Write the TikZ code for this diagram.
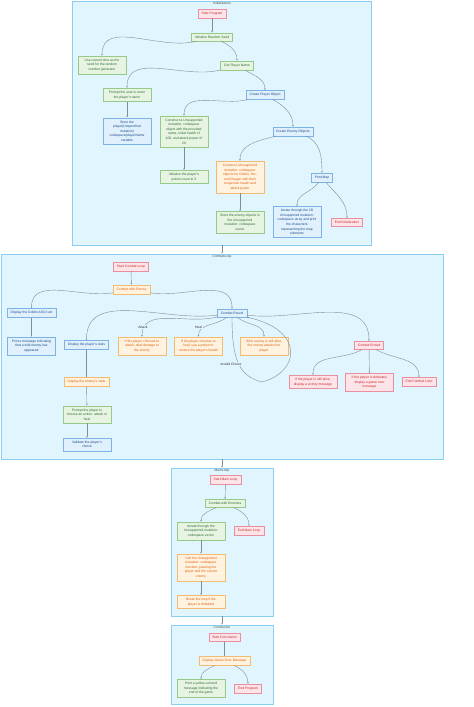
\documentclass[tikz,border=0pt]{standalone}
\usepackage{fontspec}
\setmainfont{Liberation Sans}
\usetikzlibrary{arrows.meta}

\definecolor{clusterfill}{HTML}{E1F5FE}
\definecolor{clusterline}{HTML}{8CCDF2}
\definecolor{redfill}{HTML}{FDE4E9}
\definecolor{redline}{HTML}{E8909F}
\definecolor{redtext}{HTML}{C62828}
\definecolor{greenfill}{HTML}{E6F4E1}
\definecolor{greenline}{HTML}{96C98A}
\definecolor{greentext}{HTML}{2E6B30}
\definecolor{bluefill}{HTML}{E1F0FD}
\definecolor{blueline}{HTML}{7DB2E6}
\definecolor{bluetext}{HTML}{1A4C8A}
\definecolor{orangefill}{HTML}{FFF2DE}
\definecolor{orangeline}{HTML}{F4BA72}
\definecolor{orangetext}{HTML}{E0610E}
\definecolor{edgegray}{HTML}{7E8D97}

\begin{document}
\begin{tikzpicture}[
  x=1mm, y=-1mm,
  font=\fontsize{9.5}{13}\selectfont,
  >={Latex[length=1.8mm,width=1.5mm]},
  box/.style={draw, line width=0.4mm, align=center, inner xsep=3.5mm, inner ysep=2.8mm},
  wide/.style={minimum width=48mm, inner xsep=2mm},
  redbox/.style={box, draw=redline, fill=redfill, text=redtext},
  greenbox/.style={box, draw=greenline, fill=greenfill, text=greentext},
  bluebox/.style={box, draw=blueline, fill=bluefill, text=bluetext},
  orangebox/.style={box, draw=orangeline, fill=orangefill, text=orangetext},
  cluster/.style={draw=clusterline, fill=clusterfill, line width=0.4mm, inner sep=0pt},
  clabel/.style={anchor=north, text=black!70, inner sep=0.8mm},
  arr/.style={->, draw=edgegray, line width=0.4mm},
  lbl/.style={fill=clusterfill, text=black!80, inner sep=0.6mm}
]
\fill[white] (0,0) rectangle (474,707);
\useasboundingbox (0,0) rectangle (474,707);

%% ============ Initialization ============
\node[cluster, minimum width=299mm, minimum height=244mm] (init) at (222,123) {};
\node[clabel] (initlbl) at (init.north) {Initialization};

\node[redbox]         (start)      at (212,13.5)  {Start Program};
\node[greenbox]       (seed)       at (212,37)    {Initialize Random Seed};
\node[greenbox, wide] (usetime)    at (102,65)    {Use current time as the\\seed for the random\\number generator};
\node[greenbox]       (getname)    at (237,65.5)  {Get Player Name};
\node[greenbox, wide] (prompt)     at (127,95)    {Prompt the user to enter\\the player's name};
\node[bluebox]        (mkplayer)   at (265,95)    {Create Player Object};
\node[bluebox, wide]  (storename)  at (127,131)   {Store the\\player(Unspecified\\mutation)\\codespace/playerName\\variable};
\node[greenbox, wide] (construct)  at (184,131.5) {Construct a Unsupported\\mutation: codespace\\object with the provided\\name, initial health of\\100, and attack power of\\20};
\node[greenbox, wide] (potion)     at (184,177)   {Initialize the player's\\potion count to 3};
\node[bluebox]        (mkenemy)    at (293,131.5) {Create Enemy Objects};
\node[orangebox, wide](enemyobj)   at (240,177)   {Construct Unsupported\\mutation: codespace\\objects for Goblin, Orc,\\and Dragon with their\\respective health and\\attack power};
\node[bluebox]        (printmap)   at (322,177.5) {Print Map};
\node[greenbox, wide] (storeenemy) at (240,222.5) {Store the enemy objects in\\the Unsupported\\mutation: codespace\\vector};
\node[bluebox, wide]  (iterate)    at (297,222)   {Iterate through the 2D\\Unsupported mutation:\\codespace array and print\\the characters\\representing the map\\elements};
\node[redbox]         (endinit)    at (347,222.5) {End Initialization};

\draw[arr] (start) -- (seed);
\draw[arr] (seed) to[out=-165,in=90] (usetime);
\draw[arr] (seed) to[out=-25,in=90] (getname);
\draw[arr] (getname) to[out=-165,in=90] (prompt);
\draw[arr] (getname) to[out=-30,in=90] (mkplayer);
\draw[arr] (prompt) -- (storename);
\draw[arr] (mkplayer) to[out=-165,in=90] (construct);
\draw[arr] (mkplayer) to[out=-30,in=90] (mkenemy);
\draw[arr] (construct) -- (potion);
\draw[arr] (mkenemy) to[out=-165,in=90] (enemyobj);
\draw[arr] (mkenemy) to[out=-20,in=90] (printmap);
\draw[arr] (enemyobj) -- (storeenemy);
\draw[arr] (printmap) to[out=-125,in=90] (iterate);
\draw[arr] (printmap) to[out=-50,in=90] (endinit);

%% ============ CombatLoop ============
\node[cluster, minimum width=442mm, minimum height=205mm] (combat) at (222,356.5) {};
\node[clabel] (combatlbl) at (combat.north) {CombatLoop};

\node[redbox]          (startcombat) at (131,266.5) {Start Combat Loop};
\node[orangebox]       (fight)       at (131.5,289.5) {Combat with Enemy};
\node[bluebox]         (goblin)      at (31.5,313)  {Display the Goblin ASCII art};
\node[bluebox, wide]   (wildmsg)     at (31.5,346)  {Print a message indicating\\that a wild enemy has\\appeared};
\node[bluebox]         (cround)      at (232,313)   {Combat Round};
\node[bluebox]         (pstats)      at (86.5,345)  {Display the player's stats};
\node[orangebox, wide] (attack)      at (142,346)   {If the player chooses to\\attack, deal damage to\\the enemy};
\node[orangebox, wide] (heal)        at (198.5,346) {If the player chooses to\\heal, use a potion to\\restore the player's health};
\node[orangebox, wide] (enemyatk)    at (264,346)   {If the enemy is still alive,\\the enemy attacks the\\player};
\node[redbox]          (cended)      at (369,345.5) {Combat Ended};
\node[orangebox]       (estats)      at (86.5,382)  {Display the enemy's stats};
\node[greenbox, wide]  (choose)      at (87,414.5)  {Prompt the player to\\choose an action: attack or\\heal};
\node[bluebox, wide]   (validate)    at (87,444.5)  {Validate the player's\\choice};
\node[redbox, wide]    (victory)     at (313,382)   {If the player is still alive,\\display a victory message};
\node[redbox, wide]    (defeat)      at (369.5,382.5) {If the player is defeated,\\display a game over\\message};
\node[redbox]          (endcombat)   at (419,382)   {End Combat Loop};

\draw[arr] (startcombat) -- (fight);
\draw[arr] (fight) to[out=-170,in=90] (goblin);
\draw[arr] (fight) to[out=-10,in=90] (cround);
\draw[arr] (goblin) -- (wildmsg);
\draw[arr] (cround) to[out=-172,in=90] (pstats);
\draw[arr] (cround) to[out=-165,in=90] (attack);
\draw[arr] (cround) to[out=-140,in=90] (heal);
\draw[arr] (cround) to[out=-40,in=90] (enemyatk);
\draw[arr] (cround) to[out=-8,in=90] (cended);
\draw[arr] (pstats) -- (estats);
\draw[arr] (estats) -- (choose);
\draw[arr] (choose) -- (validate);
\draw[arr] (cended) to[out=-150,in=90] (victory);
\draw[arr] (cended) -- (defeat);
\draw[arr] (cended) to[out=-30,in=90] (endcombat);

%% invalid choice: loop dips below the round and comes back into it
\coordinate (invtip) at (262,382);
\draw[arr] (cround.south) .. controls (232,362) and (240,376) .. (invtip)
  .. controls (300,372) and (305,330) .. (cround.south east);

\node[lbl] (attacklbl)  at (143,327) {Attack};
\node[lbl] (heallbl)    at (198.5,327) {Heal};
\node[lbl] (invalidlbl) at (231,364) {Invalid Choice};

%% ============ MainLoop ============
\node[cluster, minimum width=102mm, minimum height=148mm] (mainloop) at (222,542) {};
\node[clabel] (mainlbl) at (mainloop.north) {MainLoop};

\node[redbox]          (startmain) at (225.5,480) {Start Main Loop};
\node[greenbox]        (fightall)  at (225,503.5) {Combat with Enemies};
\node[greenbox, wide]  (itervec)   at (201,531)   {Iterate through the\\Unsupported mutation:\\codespace vector};
\node[redbox]          (endmain)   at (249,531)   {End Main Loop};
\node[orangebox, wide] (callfn)    at (201,567.5) {Call the Unsupported\\mutation: codespace\\function, passing the\\player and the current\\enemy};
\node[orangebox, wide] (breakloop) at (201,602)   {Break the loop if the\\player is defeated};

\draw[arr] (startmain) -- (fightall);
\draw[arr] (fightall) to[out=-155,in=90] (itervec);
\draw[arr] (fightall) to[out=-25,in=90] (endmain);
\draw[arr] (itervec) -- (callfn);
\draw[arr] (callfn) -- (breakloop);

%% ============ Conclusion ============
\node[cluster, minimum width=102mm, minimum height=79mm] (conclusion) at (222,664.5) {};
\node[clabel] (conclbl) at (conclusion.north) {Conclusion};

\node[redbox]         (startconc) at (224.5,637.5) {Start Conclusion};
\node[orangebox]      (gameover)  at (224.5,661)   {Display Game Over Message};
\node[greenbox, wide] (yellowmsg) at (201,688.5)   {Print a yellow-colored\\message indicating the\\end of the game};
\node[redbox]         (endprog)   at (248,688.5)   {End Program};

\draw[arr] (startconc) -- (gameover);
\draw[arr] (gameover) to[out=-155,in=90] (yellowmsg);
\draw[arr] (gameover) to[out=-25,in=90] (endprog);

%% ============ between the groups ============
\draw[arr] (init.south) -- (combat.north);
\draw[arr] (combat.south) -- (mainloop.north);
\draw[arr] (mainloop.south) -- (conclusion.north);

\end{tikzpicture}
\end{document}
